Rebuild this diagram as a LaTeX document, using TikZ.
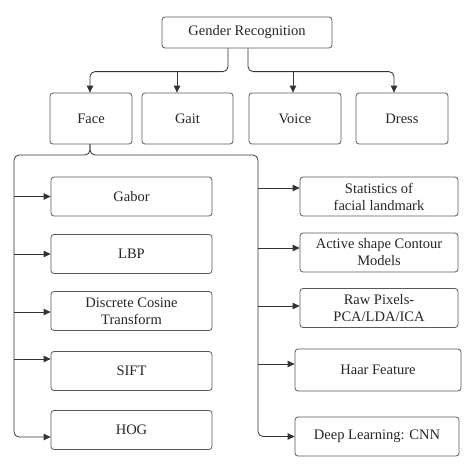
\documentclass[tikz,border=0pt]{standalone}
\usepackage{fontspec}
\setmainfont{Liberation Serif}
\usetikzlibrary{arrows.meta}

\begin{document}
\begin{tikzpicture}[x=1pt,y=-1pt,
    box/.style={draw=black!65,line width=0.8pt,rounded corners=3pt,align=center,
      inner sep=0pt,text=black!85,font=\fontsize{14.5}{17}\selectfont},
    arr/.style={draw=black!80,line width=0.8pt,-{Triangle[length=7pt,width=6.5pt]}},
    lbox/.style={box,minimum width=161pt,minimum height=39pt}]
    \useasboundingbox (0,0) rectangle (474,474);
    % top two rows
    \node[box,minimum width=170pt,minimum height=31pt] (gr) at (247,32.5) {Gender Recognition};
    \node[box,minimum width=82pt,minimum height=51pt] (face) at (91,118.5) {Face};
    \node[box,minimum width=91pt,minimum height=51pt] (gait) at (187.5,118.5) {Gait};
    \node[box,minimum width=92pt,minimum height=51pt] (voice) at (295,118.5) {Voice};
    \node[box,minimum width=92pt,minimum height=51pt] (dress) at (402,118.5) {Dress};
    % face methods, left column
    \node[lbox] (gabor) at (131.5,196.5) {Gabor};
    \node[lbox] (lbp) at (131.5,254) {LBP};
    \node[lbox] (dct) at (131.5,311) {Discrete Cosine\\Transform};
    \node[lbox] (sift) at (131.5,371) {SIFT};
    \node[lbox] (hog) at (131.5,430) {HOG};
    % face methods, right column
    \node[box,minimum width=158pt,minimum height=39pt] (stat) at (379,196.5) {Statistics of\\facial landmark};
    \node[box,minimum width=158pt,minimum height=39pt] (asm) at (379,252.5) {Active shape Contour\\Models};
    \node[box,minimum width=158pt,minimum height=39pt] (raw) at (379,308) {Raw Pixels-\\PCA/LDA/ICA};
    \node[box,minimum width=166pt,minimum height=42pt] (haar) at (378,370) {Haar Feature};
    \node[box,minimum width=164pt,minimum height=39pt] (dl) at (377,436.5) {Deep Learning: CNN};
    % gender recognition -> modalities
    \draw[arr,rounded corners=5pt] ([xshift=-19pt]gr.south) |- ([xshift=-1pt,yshift=21pt]face.north) -- ([xshift=-1pt]face.north);
    \draw[arr] ([xshift=-10.5pt,yshift=21pt]gait.north) -- ([xshift=-10.5pt]gait.north);
    \draw[arr,rounded corners=5pt] ([xshift=1pt]gr.south) |- ([xshift=-8pt,yshift=21pt]dress.north) -- ([xshift=-8pt]dress.north);
    \draw[arr] ([xshift=-2pt,yshift=21pt]voice.north) -- ([xshift=-2pt]voice.north);
    % face -> methods
    \coordinate (busl) at (14,155);
    \coordinate (busr) at (258,155);
    \draw[arr,rounded corners=5pt] ([xshift=-1pt]face.south) |- (busl) |- ([yshift=-7pt]hog.west);
    \draw[arr,rounded corners=5pt] ([xshift=-1pt]face.south) |- (busr) |- (dl.west);
    \foreach \n/\s in {gabor/0,lbp/0,dct/-1,sift/12}{
        \path ([yshift=\s pt]\n.west) coordinate (t);
        \draw[arr] (busl |- t) -- (t);
    }
    \foreach \n/\s in {stat/8.5,asm/4.5,raw/2,haar/6}{
        \path ([yshift=\s pt]\n.west) coordinate (t);
        \draw[arr] (busr |- t) -- (t);
    }
\end{tikzpicture}
\end{document}
